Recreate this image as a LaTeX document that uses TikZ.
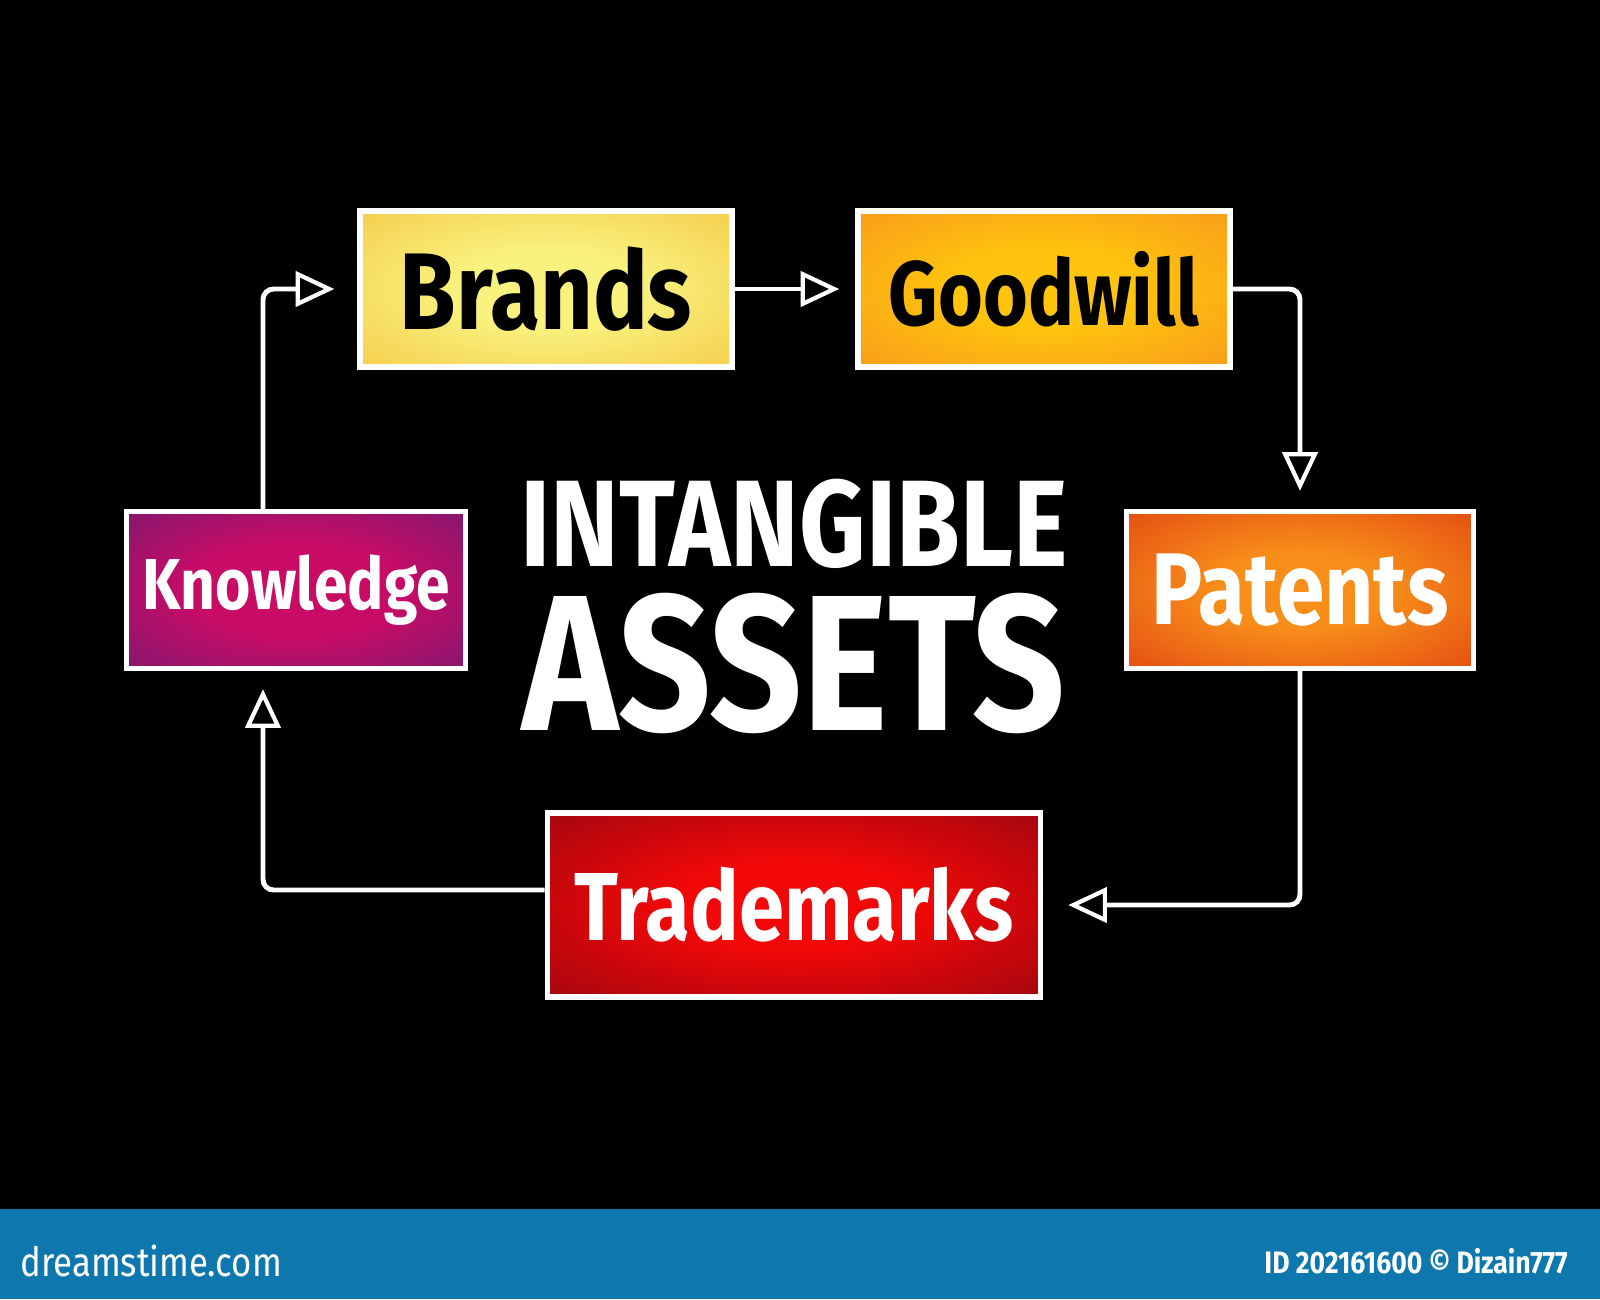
\documentclass[tikz,border=0pt]{standalone}
\usepackage{fontspec}
\setmainfont{Fira Sans}
\newfontfamily\handfont[FakeStretch=0.84]{Fira Sans}
\newfontfamily\barfont[FakeStretch=0.86]{Fira Sans}
\usetikzlibrary{arrows.meta}

\definecolor{brandsin}{HTML}{F9F27E}
\definecolor{brandsout}{HTML}{F4C440}
\definecolor{goodin}{HTML}{FFC40D}
\definecolor{goodout}{HTML}{F7921E}
\definecolor{knowin}{HTML}{C80C66}
\definecolor{knowout}{HTML}{6A1B72}
\definecolor{patin}{HTML}{F88E1A}
\definecolor{patout}{HTML}{DF3D10}
\definecolor{tradein}{HTML}{F20808}
\definecolor{tradeout}{HTML}{8E0610}
\definecolor{barblue}{HTML}{0E77AE}

\pgfdeclareradialshading{brandsglow}{\pgfpoint{0bp}{0bp}}{color(0bp)=(brandsin); color(12bp)=(brandsin); color(42bp)=(brandsout); color(50bp)=(brandsout)}
\pgfdeclareradialshading{goodglow}{\pgfpoint{0bp}{0bp}}{color(0bp)=(goodin); color(12bp)=(goodin); color(42bp)=(goodout); color(50bp)=(goodout)}
\pgfdeclareradialshading{knowglow}{\pgfpoint{0bp}{0bp}}{color(0bp)=(knowin); color(15bp)=(knowin); color(44bp)=(knowout); color(50bp)=(knowout)}
\pgfdeclareradialshading{patglow}{\pgfpoint{0bp}{0bp}}{color(0bp)=(patin); color(12bp)=(patin); color(42bp)=(patout); color(50bp)=(patout)}
\pgfdeclareradialshading{tradeglow}{\pgfpoint{0bp}{0bp}}{color(0bp)=(tradein); color(12bp)=(tradein); color(42bp)=(tradeout); color(50bp)=(tradeout)}

\tikzset{
  box/.style={draw=white, line width=1.5pt, inner sep=0pt, minimum height=1.56cm},
  flow/.style={draw=white, line width=1.4pt, rounded corners=3pt,
    -{Triangle[open, length=11pt, width=10pt, line width=1.2pt]}},
  title/.style={anchor=base, text=white, font=\handfont\bfseries}
}

\begin{document}
\begin{tikzpicture}[x=0.01cm, y=-0.01cm]

    % Background and bottom bar
    \fill[black] (0,0) rectangle (1600,1299);
    \fill[barblue] (0,1209) rectangle (1600,1299);
    \useasboundingbox (0,0) rectangle (1600,1299);

    % Boxes
    \node[box, shading=brandsglow, minimum width=3.72cm, text=black,
      font=\handfont\bfseries\fontsize{31}{31}\selectfont] (brands) at (546,289) {Brands};
    \node[box, shading=goodglow, minimum width=3.72cm, text=black,
      font=\handfont\bfseries\fontsize{26}{26}\selectfont] (goodwill) at (1044,289) {Goodwill};
    \node[box, shading=knowglow, minimum width=3.39cm, minimum height=1.57cm, text=white,
      font=\handfont\bfseries\fontsize{20.5}{20.5}\selectfont] (knowledge) at (296,590) {Knowledge};
    \node[box, shading=patglow, minimum width=3.47cm, minimum height=1.57cm, text=white,
      font=\handfont\bfseries\fontsize{29}{29}\selectfont] (patents) at (1300,590) {Patents};
    \node[box, shading=tradeglow, minimum width=4.93cm, minimum height=1.84cm, text=white,
      font=\handfont\bfseries\fontsize{27.5}{27.5}\selectfont] (trademarks) at (794,905) {Trademarks};

    % Title
    \node[title, font=\handfont\bfseries\fontsize{35}{35}\selectfont] (intang) at (794,566) {INTANGIBLE};
    \node[title, font=\handfont\bfseries\fontsize{55}{55}\selectfont] (assets) at (794,730) {ASSETS};

    % Connectors
    \draw[flow, shorten >=0.23cm] ([xshift=-0.33cm]knowledge.north) |- (brands.west);
    \draw[flow, shorten >=0.16cm] (brands.east) -- (goodwill.west);
    \draw[flow, shorten >=0.18cm] (goodwill.east) -| (patents.north);
    \draw[flow, shorten >=0.25cm] (patents.south) |- (trademarks.east);
    \draw[flow, shorten >=0.18cm] ([yshift=0.15cm]trademarks.west) -| ([xshift=-0.33cm]knowledge.south);

    % Bar texts
    \node[anchor=west, text=white, font=\barfont\fontsize{11.5}{11.5}\selectfont] (site) at (8,1261) {dreamstime.com};
    \node[anchor=east, text=white, font=\barfont\bfseries\fontsize{8.8}{8.8}\selectfont] (imgid) at (1580,1261) {ID 202161600 © Dizain777};

\end{tikzpicture}
\end{document}
